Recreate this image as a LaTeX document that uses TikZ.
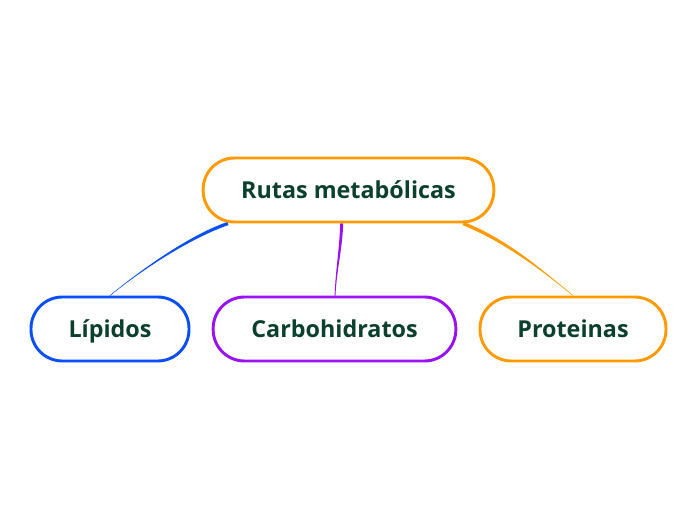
\documentclass[tikz,border=0pt]{standalone}
\usepackage{fontspec}
\setmainfont{Open Sans}[BoldFont={* Bold}]
\usetikzlibrary{calc}
\pgfdeclarelayer{bg}
\pgfsetlayers{bg,main}
\definecolor{cOrange}{HTML}{FF9A00}
\definecolor{cBlue}{HTML}{0A4EF5}
\definecolor{cPurple}{HTML}{9A12F2}
\definecolor{cText}{HTML}{0B3F2E}
\tikzset{
  topic/.style={draw, line width=2.2pt, fill=white, rounded corners=23.5pt,
    minimum height=48pt, inner sep=0pt, text=cText, text height=14.5pt, text depth=1pt,
    font=\bfseries\fontsize{17.5}{20}\selectfont},
}
\begin{document}
\begin{tikzpicture}[x=0.75pt,y=-0.75pt]
\useasboundingbox (0,0) rectangle (696,520);
\node[topic, draw=cOrange, minimum width=218pt] (root) at (348.5,190) {Rutas metabólicas};
\node[topic, draw=cBlue, minimum width=118.5pt] (lip) at (110,329) {Lípidos};
\node[topic, draw=cPurple, minimum width=182pt] (car) at (334.5,329) {Carbohidratos};
\node[topic, draw=cOrange, minimum width=139.5pt] (pro) at (573,329) {Proteinas};
\begin{pgfonlayer}{bg}
% blue
\fill[cBlue] ($(root.south)+(-121,-1.6)$) .. controls ($(root.south)+(-160,12)$) and ($(lip.north)+(30,-25)$) .. ($(lip.north)+(-0.4,0)$)
  -- ($(lip.north)+(0.4,0)$) .. controls ($(lip.north)+(31,-25)$) and ($(root.south)+(-159,15)$) .. ($(root.south)+(-120,1.6)$) -- cycle;
% purple
\fill[cPurple] ($(root.south)+(-8.3,0)$) .. controls ($(root.south)+(-9,25)$) and ($(car.north)+(1,-25)$) .. ($(car.north)+(0.1,0)$)
  -- ($(car.north)+(1,0)$) .. controls ($(car.north)+(2,-25)$) and ($(root.south)+(-6,25)$) .. ($(root.south)+(-5.3,0)$) -- cycle;
% orange
\fill[cOrange] ($(root.south)+(115,-1.6)$) .. controls ($(root.south)+(158,15)$) and ($(pro.north)+(-30,-25)$) .. ($(pro.north)+(0.4,0)$)
  -- ($(pro.north)+(-0.4,0)$) .. controls ($(pro.north)+(-31,-25)$) and ($(root.south)+(155,18)$) .. ($(root.south)+(114,1.6)$) -- cycle;
\end{pgfonlayer}
\end{tikzpicture}
\end{document}
